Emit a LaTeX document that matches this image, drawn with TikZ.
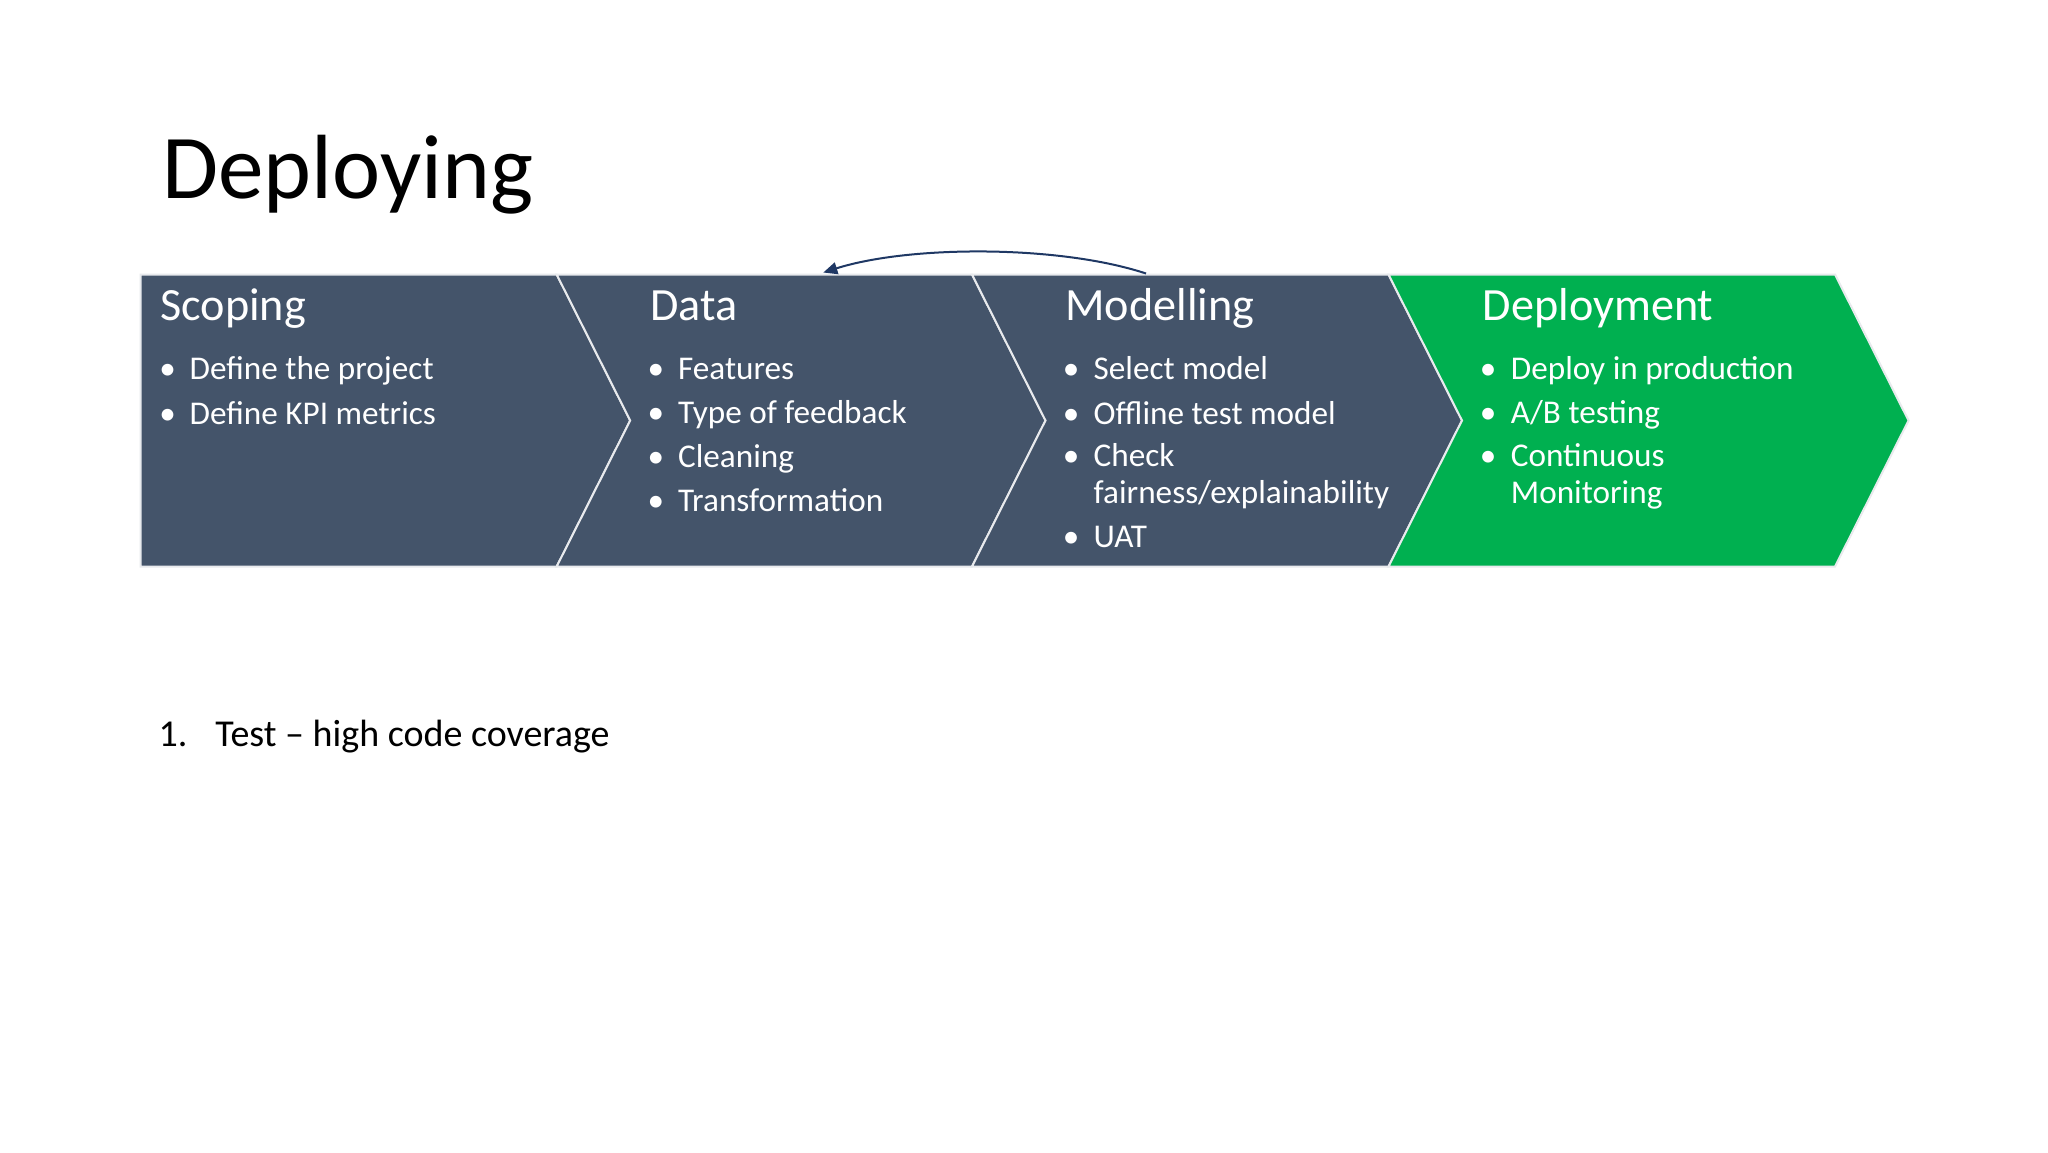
\documentclass[tikz,border=0pt]{standalone}
\usepackage{fontspec}
\setmainfont{Carlito}
\usetikzlibrary{arrows.meta}
\definecolor{slate}{HTML}{44546A}
\definecolor{grn}{HTML}{00B050}
\definecolor{edge}{RGB}{232,234,237}
\definecolor{navy}{HTML}{1F3864}
\tikzset{
  chev/.style={draw=edge, line width=1pt, line join=miter},
  head/.style={anchor=base west, text=white, inner sep=0pt, font=\fontsize{23.1}{28}\selectfont},
  item/.style={anchor=base west, text=white, inner sep=0pt, font=\fontsize{16.6}{20}\selectfont},
  bul/.style={anchor=base, text=white, inner sep=0pt, font=\fontsize{16.6}{20}\selectfont},
  fb/.style={draw=navy, line width=1pt, -{Triangle[length=7pt,width=6pt]}},
}
\begin{document}
\begin{tikzpicture}[x=0.5pt,y=-0.5pt]
\fill[white] (0,0) rectangle (2048,1152);
\useasboundingbox (0,0) rectangle (2048,1152);

% title
\node[anchor=base west, inner sep=0pt, font=\fontsize{45.6}{56}\selectfont] (title) at (162,198.3) {Deploying};

% chevrons
\path[chev, fill=slate] (140.7,274.5) -- (556.7,274.5) -- (630.2,420.5) -- (556.7,566.5) -- (140.7,566.5) -- cycle;
\path[chev, fill=slate] (556.7,274.5) -- (972,274.5) -- (1045.5,420.5) -- (972,566.5) -- (556.7,566.5) -- (630.2,420.5) -- cycle;
\path[chev, fill=slate] (972,274.5) -- (1388.5,274.5) -- (1462,420.5) -- (1388.5,566.5) -- (972,566.5) -- (1045.5,420.5) -- cycle;
\path[chev, fill=grn] (1388.5,274.5) -- (1835,274.5) -- (1908.5,420.5) -- (1835,566.5) -- (1388.5,566.5) -- (1462,420.5) -- cycle;

% Scoping
\node[head] (hs) at (160,320) {Scoping};
\node[bul] (bs1) at (167.7,379) {•};
\node[item] (s1) at (189.3,379) {Define the project};
\node[bul] (bs2) at (167.7,424) {•};
\node[item] (s2) at (189.3,424) {Define KPI metrics};

% Data
\node[head] (hd) at (650,320) {Data};
\node[bul] (bd1) at (656,379) {•};
\node[item] (d1) at (677.7,379) {Features};
\node[bul] (bd2) at (656,423.5) {•};
\node[item] (d2) at (677.7,423.5) {Type of feedback};
\node[bul] (bd3) at (656,467) {•};
\node[item] (d3) at (677.7,467) {Cleaning};
\node[bul] (bd4) at (656,511) {•};
\node[item] (d4) at (677.7,511) {Transformation};

% Modelling
\node[head] (hm) at (1065,320) {Modelling};
\node[bul] (bm1) at (1071,379) {•};
\node[item] (m1) at (1093.3,379) {Select model};
\node[bul] (bm2) at (1071,424) {•};
\node[item] (m2) at (1093.3,424) {Offline test model};
\node[bul] (bm3) at (1071,466) {•};
\node[item] (m3) at (1093.3,466) {Check};
\node[item] (m3b) at (1093.3,503) {fairness/explainability};
\node[bul] (bm4) at (1071,547) {•};
\node[item] (m4) at (1093.3,547) {UAT};

% Deployment
\node[head] (hp) at (1482.5,320) {Deployment};
\node[bul] (bp1) at (1488,379) {•};
\node[item] (p1) at (1510.5,379) {Deploy in production};
\node[bul] (bp2) at (1488,423.5) {•};
\node[item] (p2) at (1510.5,423.5) {A/B testing};
\node[bul] (bp3) at (1488,466) {•};
\node[item] (p3) at (1510.5,466) {Continuous};
\node[item] (p3b) at (1510.5,503) {Monitoring};

% feedback arrow
\coordinate (fbstart) at (1146,273.5);
\coordinate (fbend) at (823.3,272.5);
\draw[fb] (fbstart) .. controls (1060,245) and (910,245) .. (fbend);

% numbered list
\node[anchor=base west, inner sep=0pt, font=\fontsize{19}{22}\selectfont] (n1) at (158.3,746) {1.};
\node[anchor=base west, inner sep=0pt, font=\fontsize{19}{22}\selectfont] (t1) at (215,746) {Test – high code coverage};
\end{tikzpicture}
\end{document}
